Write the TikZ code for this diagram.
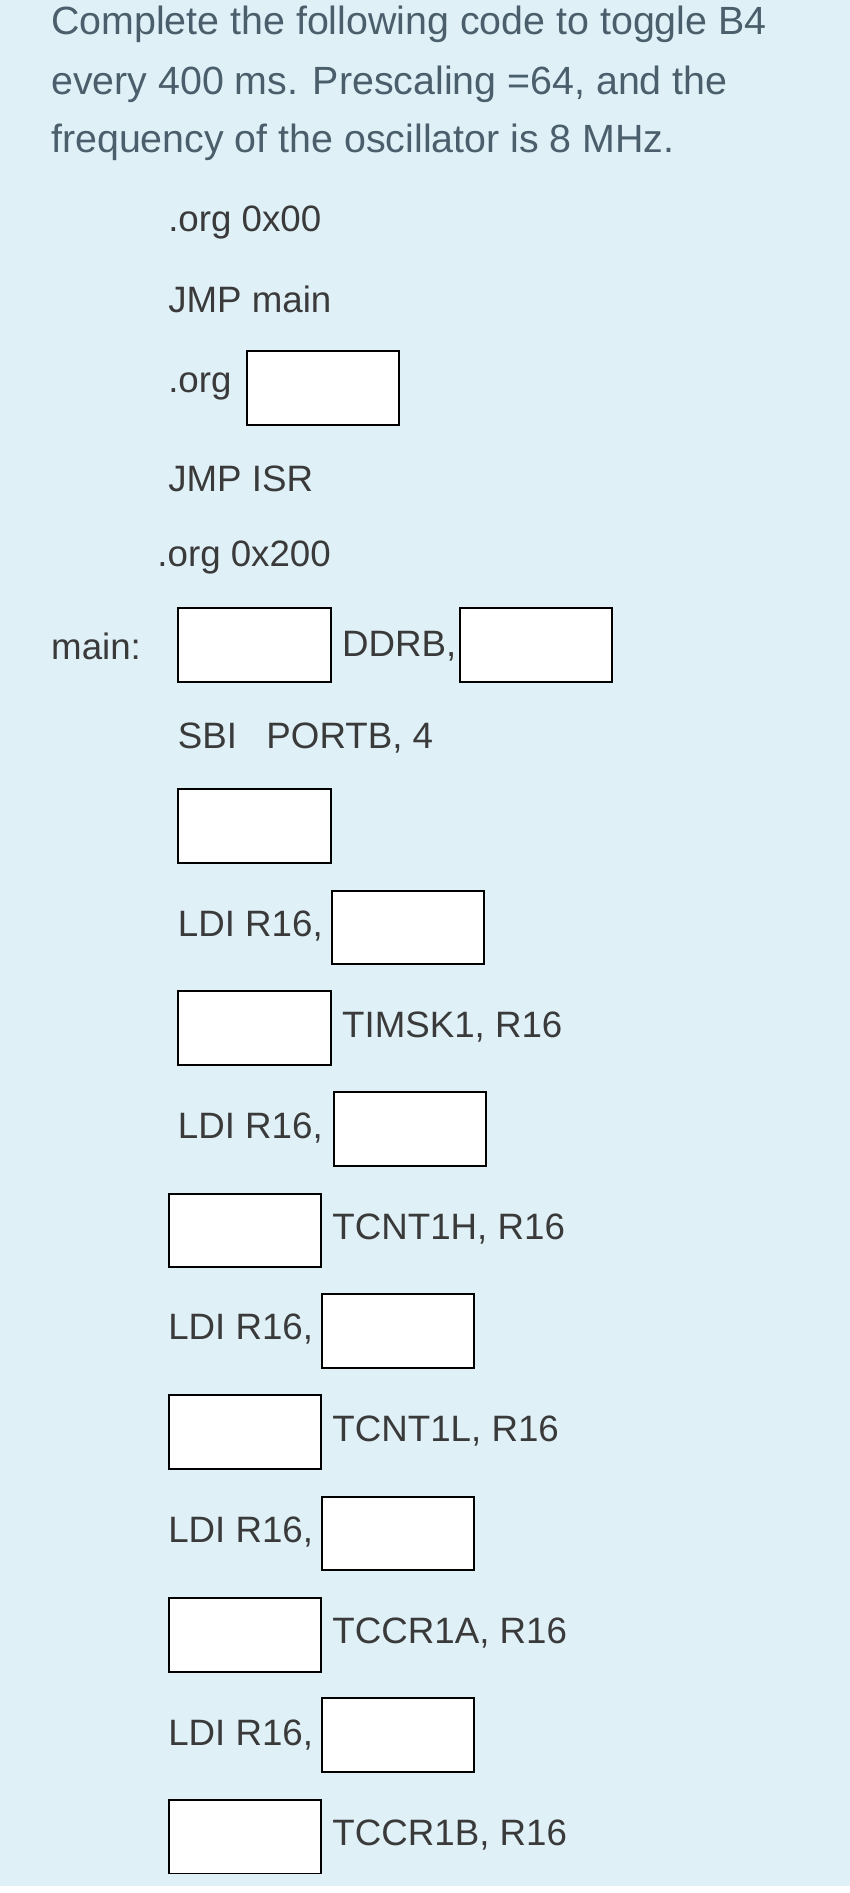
\documentclass[tikz,border=0pt]{standalone}
\usepackage{fontspec}
\setmainfont{Liberation Sans}
\definecolor{bg}{HTML}{DFF0F7}
\definecolor{hd}{HTML}{4A5F6B}
\definecolor{cd}{HTML}{3A3A3A}
\begin{document}
\begin{tikzpicture}[x=0.5pt,y=-0.5pt,
  hdr/.style={anchor=west,inner sep=0pt,text=hd,font=\fontsize{16.3pt}{19pt}\selectfont},
  code/.style={anchor=west,inner sep=0pt,text=cd,font=\fontsize{15.2pt}{18pt}\selectfont},
  blank/.style={draw=black,fill=white,line width=0.8pt,minimum width=63pt,minimum height=30.5pt,anchor=north west,inner sep=0pt}]
\fill[bg] (0,0) rectangle (704,1562);
\fill[white] (0,1562) rectangle (704,1568);
\useasboundingbox (0,0) rectangle (704,1568);
\node[hdr] (h1) at (42,20) {Complete the following code to toggle B4};
\node[hdr] (h2) at (42,70) {every 400 ms. Prescaling =64, and the};
\node[hdr] (h3) at (42,118) {frequency of the oscillator is 8 MHz.};
\node[code] (t1) at (139,184) {.org 0x00};
\node[code] (t2) at (139,248) {JMP main};
\node[code] (t3) at (139,320) {.org};
\node[blank] (b1) at (204,290) {};
\node[code] (t4) at (139,397) {JMP ISR};
\node[code] (t5) at (130,462) {.org 0x200};
\node[code] (t6) at (42,535) {main:};
\node[blank] (b2) at (147,503) {};
\node[code] (t7) at (283,535) {DDRB,};
\node[blank] (b3) at (380,503) {};
\node[code] (t8) at (147,611) {SBI\hspace{0.8em}PORTB, 4};
\node[blank] (b4) at (147,653) {};
\node[code] (t9) at (147,767) {LDI R16,};
\node[blank] (b5) at (274,737) {};
\node[blank] (b6) at (147,820) {};
\node[code] (t10) at (283,851) {TIMSK1, R16};
\node[code] (t11) at (147,934) {LDI R16,};
\node[blank] (b7) at (276,904) {};
\node[blank] (b8) at (139,988) {};
\node[code] (t12) at (275,1018) {TCNT1H, R16};
\node[code] (t13) at (139,1101) {LDI R16,};
\node[blank] (b9) at (266,1071) {};
\node[blank] (b10) at (139,1155) {};
\node[code] (t14) at (275,1185) {TCNT1L, R16};
\node[code] (t15) at (139,1269) {LDI R16,};
\node[blank] (b11) at (266,1239) {};
\node[blank] (b12) at (139,1323) {};
\node[code] (t16) at (275,1353) {TCCR1A, R16};
\node[code] (t17) at (139,1437) {LDI R16,};
\node[blank] (b13) at (266,1406) {};
\node[blank] (b14) at (139,1490) {};
\node[code] (t18) at (275,1520) {TCCR1B, R16};
\end{tikzpicture}
\end{document}
